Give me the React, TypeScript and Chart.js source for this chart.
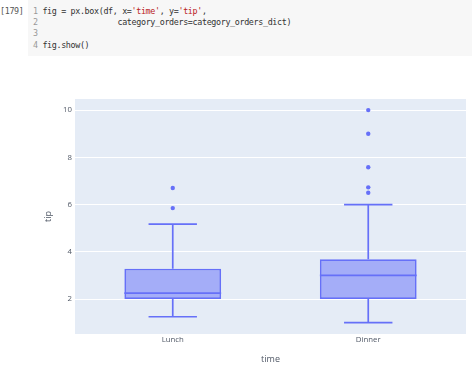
import React, { useEffect, useRef } from "react";
import { Chart, registerables } from "chart.js";

Chart.register(...registerables);

const categories = ["Lunch", "Dinner"];
const q1 = [2.0, 2.0];
const median = [2.25, 3.0];
const q3 = [3.2875, 3.6875];
const lowerFence = [1.25, 1.0];
const upperFence = [5.17, 6.0];
const lunchOutliers = [6.7, 5.85];
const dinnerOutliers = [10.0, 9.0, 7.58, 6.73, 6.5];
const yTicks = [2, 4, 6, 8, 10];
const yMin = 0.52;
const yMax = 10.47;

const BOX = "#6670f8";
const FONT = "'Open Sans', sans-serif";
const TEXT = "#505866";
const LW = 1.7;

const boxPlugin = {
  id: "boxExtras",
  beforeDraw(chart: any) {
    const { ctx, chartArea } = chart;
    ctx.save();
    ctx.fillStyle = "#e5ecf6";
    ctx.fillRect(chartArea.left, chartArea.top, chartArea.right - chartArea.left, chartArea.bottom - chartArea.top);
    ctx.restore();
  },
  afterDatasetsDraw(chart: any) {
    const { ctx } = chart;
    const y = chart.scales.y;
    const meta = chart.getDatasetMeta(0);
    ctx.save();
    ctx.strokeStyle = BOX;
    ctx.lineWidth = LW;
    meta.data.forEach((bar: any, i: number) => {
      const cx = bar.x;
      const half = bar.width / 2;
      const capHalf = half / 2;
      const yq1 = y.getPixelForValue(q1[i]);
      const yq3 = y.getPixelForValue(q3[i]);
      const ylo = y.getPixelForValue(lowerFence[i]);
      const yhi = y.getPixelForValue(upperFence[i]);
      const ymed = y.getPixelForValue(median[i]);
      ctx.beginPath();
      ctx.moveTo(cx, yq3);
      ctx.lineTo(cx, yhi);
      ctx.moveTo(cx - capHalf, yhi);
      ctx.lineTo(cx + capHalf, yhi);
      ctx.moveTo(cx, yq1);
      ctx.lineTo(cx, ylo);
      ctx.moveTo(cx - capHalf, ylo);
      ctx.lineTo(cx + capHalf, ylo);
      ctx.moveTo(cx - half, ymed);
      ctx.lineTo(cx + half, ymed);
      ctx.stroke();
    });
    ctx.restore();
  },
};

function BoxChart() {
  const ref = useRef<HTMLCanvasElement | null>(null);
  useEffect(() => {
    if (!ref.current) return;
    const outliers = [
      ...lunchOutliers.map((v) => ({ x: categories[0], y: v })),
      ...dinnerOutliers.map((v) => ({ x: categories[1], y: v })),
    ];
    const chart = new Chart(ref.current, {
      type: "bar",
      data: {
        labels: categories,
        datasets: [
          {
            type: "bar",
            data: categories.map((_, i) => [q1[i], q3[i]]) as any,
            backgroundColor: "rgba(99,110,250,0.5)",
            borderColor: BOX,
            borderWidth: LW,
            borderSkipped: false,
            barPercentage: 0.495,
            categoryPercentage: 1,
          } as any,
          {
            type: "scatter",
            data: outliers as any,
            backgroundColor: BOX,
            borderColor: BOX,
            pointRadius: 2.2,
            borderWidth: 0,
          } as any,
        ],
      },
      options: {
        animation: false,
        responsive: false,
        maintainAspectRatio: false,
        layout: { padding: { top: 42, right: 8, left: 0, bottom: 0 } },
        plugins: { legend: { display: false }, tooltip: { enabled: false } },
        scales: {
          x: {
            type: "category",
            labels: categories,
            offset: true,
            grid: { display: false, drawTicks: false },
            border: { display: false },
            ticks: { font: { family: FONT, size: 7.8 }, color: TEXT, padding: 1 },
            title: {
              display: true,
              text: "time",
              font: { family: FONT, size: 9 },
              color: TEXT,
              padding: { top: 0, bottom: 4.6 },
            },
            afterFit(scale: any) {
              scale.height = 35;
            },
          },
          y: {
            type: "linear",
            min: yMin,
            max: yMax,
            afterBuildTicks(scale: any) {
              scale.ticks = yTicks.map((v) => ({ value: v }));
            },
            grid: { color: "#ffffff", lineWidth: 1, drawTicks: false },
            border: { display: false },
            ticks: { font: { family: FONT, size: 7.8 }, color: TEXT, padding: 3 },
            title: {
              display: true,
              text: "tip",
              font: { family: FONT, size: 9 },
              color: TEXT,
              padding: { top: 43, bottom: 0 },
            },
            afterFit(scale: any) {
              scale.width = 75;
            },
          },
        },
      } as any,
      plugins: [boxPlugin],
    });
    return () => chart.destroy();
  }, []);
  return <canvas ref={ref} width={474} height={312} style={{ position: "absolute", left: 0, top: 57, width: 474, height: 312 }} />;
}

const codeFont = "'DejaVu Sans Mono', monospace";
const lineStyle = (i: number): React.CSSProperties => ({
  position: "absolute",
  left: 33,
  top: 5.9 + i * 11.2,
  margin: 0,
  fontFamily: codeFont,
  fontSize: 8.4,
  letterSpacing: "-0.35px",
  lineHeight: "11.2px",
  color: "#333",
  whiteSpace: "pre",
});
const num: React.CSSProperties = { color: "#999" };
const str: React.CSSProperties = { color: "#ba2121" };

export default function App() {
  return (
    <div style={{ position: "fixed", left: 0, top: 0, width: 474, height: 369, background: "#fff", overflow: "hidden" }}>
      <div style={{ position: "absolute", left: 28, top: 0, width: 444, height: 56, background: "#f7f7f7" }} />
      <pre style={{ ...lineStyle(0), left: 0, color: "#555" }}>[179]</pre>
      <pre style={lineStyle(0)}>
        <span style={num}>1</span> fig = px.box(df, x=<span style={str}>'time'</span>, y=<span style={str}>'tip'</span>,
      </pre>
      <pre style={lineStyle(1)}>
        <span style={num}>2</span>{"                 "}category_orders=category_orders_dict)
      </pre>
      <pre style={lineStyle(2)}>
        <span style={num}>3</span>
      </pre>
      <pre style={lineStyle(3)}>
        <span style={num}>4</span> fig.show()
      </pre>
      <BoxChart />
    </div>
  );
}
